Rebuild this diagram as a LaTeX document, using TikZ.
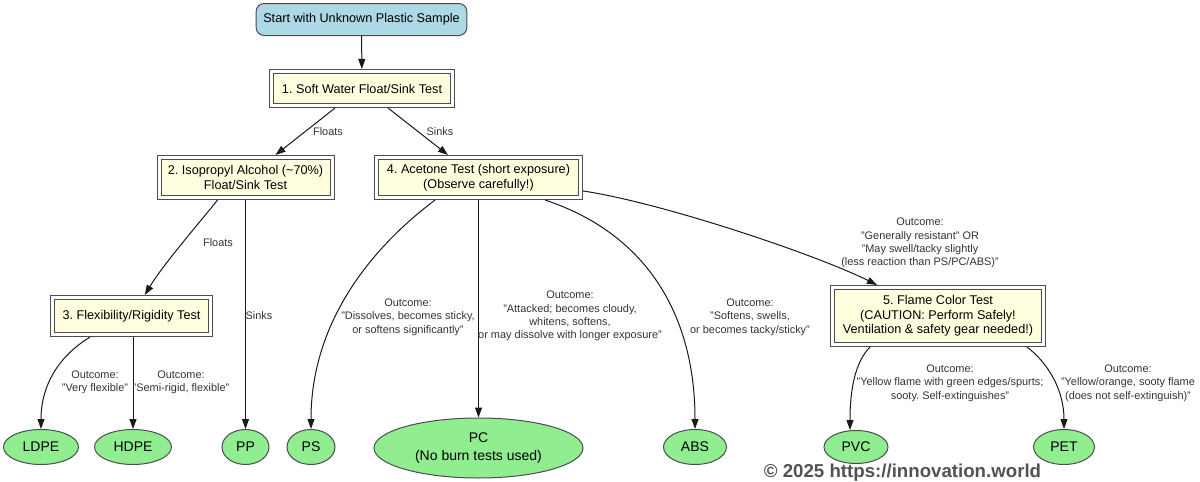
\documentclass[tikz,border=0pt]{standalone}
\usepackage{fontspec}
\setmainfont{Liberation Sans}
\usetikzlibrary{shapes.geometric,arrows.meta}
\definecolor{startblue}{HTML}{ADD8E6}
\definecolor{testyellow}{HTML}{FFFFE0}
\definecolor{leafgreen}{HTML}{90EE90}
\frenchspacing

\begin{document}
\begin{tikzpicture}[x=0.75pt,y=-0.75pt,
    startbox/.style={draw=black!70,fill=startblue,rounded corners=6pt,line width=0.75pt,minimum width=158pt,minimum height=24pt,font=\fontsize{9.5}{11}\selectfont},
    testbox/.style={draw=black!70,fill=testyellow,line width=0.75pt,double=white,double distance=2.25pt,align=center,inner sep=0pt,outer sep=1.9pt,font=\fontsize{9.5}{11}\selectfont},
    plastic/.style={ellipse,draw=black!70,fill=leafgreen,line width=0.75pt,inner sep=0pt,minimum height=26.25pt,align=center,font=\fontsize{10.5}{13}\selectfont},
    outcome/.style={align=center,text=black!80,inner sep=0pt,font=\fontsize{8.2}{10}\selectfont},
    flow/.style={draw=black!90,line width=0.75pt,-{Triangle[length=7.5pt,width=5.25pt]}}]
      \useasboundingbox (0,0) rectangle (1200,482);

      \node[startbox] (start) at (361.5,19.5) {Start with Unknown Plastic Sample};
      \node[testbox,minimum width=135.75pt,minimum height=25.5pt] (soft) at (362,88.5) {1. Soft Water Float/Sink Test};
      \node[testbox,minimum width=129.75pt,minimum height=30pt] (ipa) at (245.5,177.5) {2. Isopropyl Alcohol (\textasciitilde70\%)\\Float/Sink Test};
      \node[testbox,minimum width=153pt,minimum height=30pt] (acetone) at (478.5,177.5) {4. Acetone Test (short exposure)\\(Observe carefully!)};
      \node[testbox,minimum width=118.5pt,minimum height=27.75pt] (flex) at (131.5,316) {3. Flexibility/Rigidity Test};
      \node[testbox,minimum width=158.25pt,minimum height=42.75pt] (flame) at (938,316) {5. Flame Color Test\\(CAUTION: Perform Safely!\\Ventilation \& safety gear needed!)};

      \node[plastic,minimum width=56.25pt] (ldpe) at (41,447) {LDPE};
      \node[plastic,minimum width=57.75pt] (hdpe) at (133,447) {HDPE};
      \node[plastic,minimum width=35.25pt] (pp) at (245.5,447) {PP};
      \node[plastic,minimum width=36pt] (ps) at (311,447) {PS};
      \node[plastic,minimum width=156.75pt,minimum height=45pt] (pc) at (478.5,448) {PC\\(No burn tests used)};
      \node[plastic,minimum width=47.25pt] (abs) at (695,447) {ABS};
      \node[plastic,minimum width=48pt,minimum height=24.75pt] (pvc) at (856,447) {PVC};
      \node[plastic,minimum width=45.75pt] (pet) at (1064,447) {PET};

      \draw[flow] (start) -- (soft);
      \draw[flow] ([xshift=-20.25pt]soft.south) -- ([xshift=22.5pt]ipa.north);
      \draw[flow] ([xshift=19.5pt]soft.south) -- ([xshift=-22.9pt]acetone.north);
      \draw[flow] ([xshift=-21pt]ipa.south) .. controls +(-20,25) and +(18,-30) .. ([xshift=10pt]flex.north);
      \draw[flow] (ipa.south) -- (pp.north);
      \draw[flow] ([xshift=-31pt]flex.south) .. controls +(-30,18) and +(0,-45) .. (ldpe.north);
      \draw[flow] (flex.south -| hdpe.north) -- (hdpe.north);
      \draw[flow] ([xshift=-32.6pt]acetone.south) .. controls +(-60,45) and +(0,-110) .. (ps.north);
      \draw[flow] (acetone.south) -- (pc.north);
      \draw[flow] ([xshift=50pt]acetone.south) .. controls +(105,35) and +(0,-110) .. (abs.north);
      \draw[flow] ([yshift=-10.1pt]acetone.east) .. controls +(80,12) and +(-60,-30) .. ([xshift=-45.75pt]flame.north);
      \draw[flow] ([xshift=-51pt]flame.south) .. controls +(-15,15) and +(0,-40) .. ([xshift=-4.5pt]pvc.north);
      \draw[flow] ([xshift=66.75pt]flame.south) .. controls +(20,15) and +(0,-40) .. (pet.north);

      \node[outcome] (floatsA) at (328,132) {Floats};
      \node[outcome] (sinksA) at (440,132) {Sinks};
      \node[outcome] (floatsB) at (218,243) {Floats};
      \node[outcome] (sinksB) at (259,316) {Sinks};
      \node[outcome] (veryflex) at (95,382) {Outcome:\\"Very flexible"};
      \node[outcome] (semirigid) at (181,382) {Outcome:\\"Semi-rigid, flexible"};
      \node[outcome] (dissolves) at (408,317) {Outcome:\\"Dissolves, becomes sticky,\\or softens significantly"};
      \node[outcome] (attacked) at (570,316) {Outcome:\\"Attacked; becomes cloudy,\\whitens, softens,\\or may dissolve with longer exposure"};
      \node[outcome] (swells) at (750,317) {Outcome:\\"Softens, swells,\\or becomes tacky/sticky"};
      \node[outcome] (resistant) at (920,243) {Outcome:\\"Generally resistant" OR\\"May swell/tacky slightly\\(less reaction than PS/PC/ABS)"};
      \node[outcome] (greenedge) at (950,383) {Outcome:\\"Yellow flame with green edges/spurts;\\sooty. Self-extinguishes"};
      \node[outcome] (sootyflame) at (1128,383) {Outcome:\\"Yellow/orange, sooty flame\\(does not self-extinguish)"};

      \node[anchor=base,inner sep=0pt,text=black!68,font=\fontsize{14}{17}\selectfont\bfseries] (mark) at (902.5,477) {\textcopyright{} 2025 https://innovation.world};
    \end{tikzpicture}
\end{document}
